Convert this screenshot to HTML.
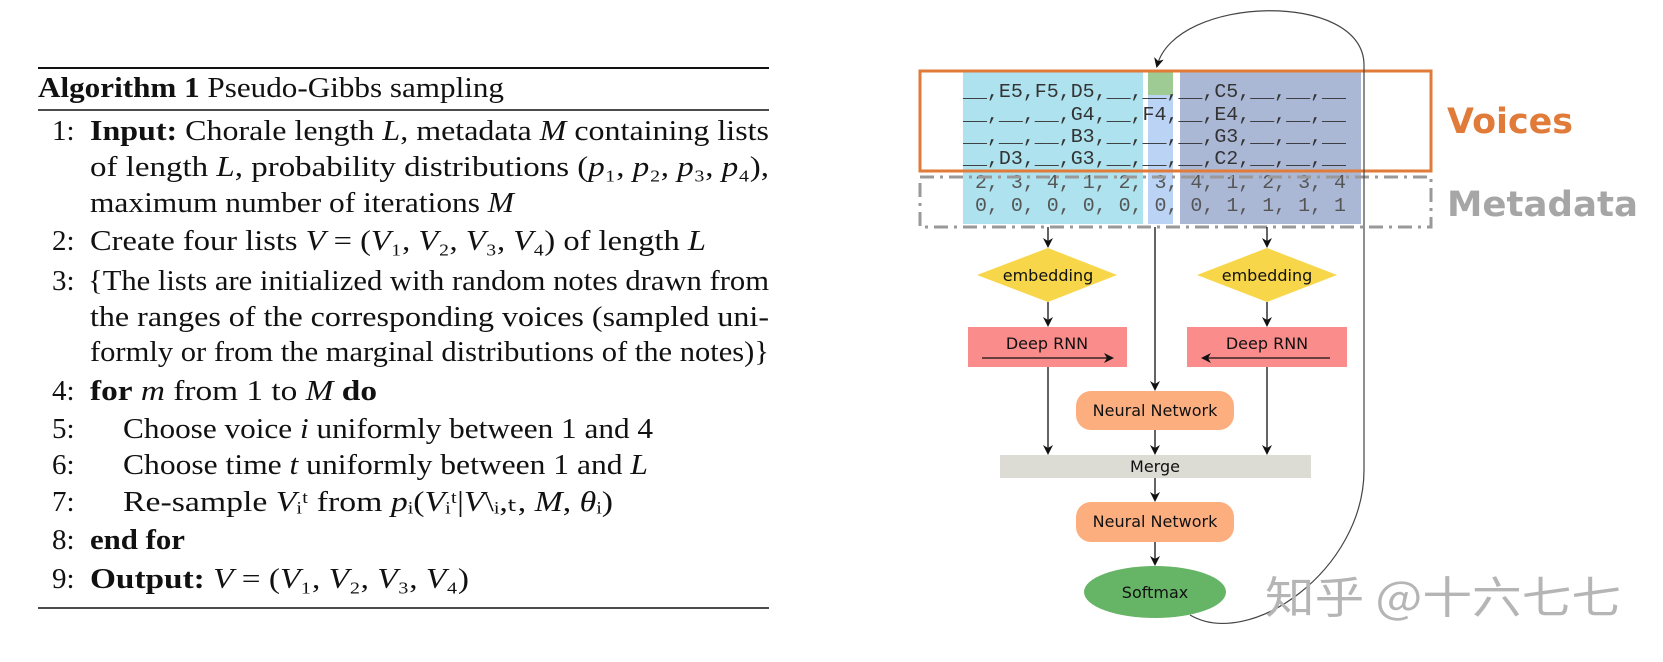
<!DOCTYPE html>
<html><head><meta charset="utf-8"><style>
html,body{margin:0;padding:0;background:#fff;}
svg{display:block;}
.a{font-family:"Liberation Serif",serif;font-size:29px;fill:#111;}
.m{font-family:"Liberation Mono",monospace;font-size:19px;fill:#333;}
.s{font-family:"DejaVu Sans","Liberation Sans",sans-serif;font-size:16px;fill:#111;text-anchor:middle;}
</style></head><body>
<svg width="1663" height="662" viewBox="0 0 1663 662" xmlns="http://www.w3.org/2000/svg">
<defs><marker id="ar" markerWidth="10" markerHeight="10" refX="8" refY="5" orient="auto" markerUnits="userSpaceOnUse"><path d="M0,0 L10,5 L0,10 L3,5 z" fill="#111"/></marker></defs>
<!-- Algorithm -->
<line x1="38" y1="68" x2="769" y2="68" stroke="#111" stroke-width="2"/>
<text class="a" x="38" y="97" textLength="466" lengthAdjust="spacingAndGlyphs"><tspan font-weight="bold">Algorithm 1</tspan> Pseudo-Gibbs sampling</text>
<line x1="38" y1="110" x2="769" y2="110" stroke="#111" stroke-width="1.5"/>
<g class="a">
<text x="52" y="140">1:</text>
<text x="90" y="140" textLength="679" lengthAdjust="spacingAndGlyphs"><tspan font-weight="bold">Input:</tspan> Chorale length <tspan font-style="italic">L</tspan>, metadata <tspan font-style="italic">M</tspan> containing lists</text>
<text x="90" y="176" textLength="679" lengthAdjust="spacingAndGlyphs">of length <tspan font-style="italic">L</tspan>, probability distributions (<tspan font-style="italic">p</tspan>₁, <tspan font-style="italic">p</tspan>₂, <tspan font-style="italic">p</tspan>₃, <tspan font-style="italic">p</tspan>₄),</text>
<text x="90" y="212" textLength="424" lengthAdjust="spacingAndGlyphs">maximum number of iterations <tspan font-style="italic">M</tspan></text>
<text x="52" y="250">2:</text>
<text x="90" y="250" textLength="616" lengthAdjust="spacingAndGlyphs">Create four lists <tspan font-style="italic">V</tspan> = (<tspan font-style="italic">V</tspan>₁, <tspan font-style="italic">V</tspan>₂, <tspan font-style="italic">V</tspan>₃, <tspan font-style="italic">V</tspan>₄) of length <tspan font-style="italic">L</tspan></text>
<text x="52" y="290">3:</text>
<text x="88" y="290" textLength="681" lengthAdjust="spacingAndGlyphs">{The lists are initialized with random notes drawn from</text>
<text x="90" y="326" textLength="679" lengthAdjust="spacingAndGlyphs">the ranges of the corresponding voices (sampled uni-</text>
<text x="90" y="361" textLength="679" lengthAdjust="spacingAndGlyphs">formly or from the marginal distributions of the notes)}</text>
<text x="52" y="400">4:</text>
<text x="90" y="400" textLength="287" lengthAdjust="spacingAndGlyphs"><tspan font-weight="bold">for</tspan> <tspan font-style="italic">m</tspan> from 1 to <tspan font-style="italic">M</tspan>  <tspan font-weight="bold">do</tspan></text>
<text x="52" y="438">5:</text>
<text x="123" y="438" textLength="530" lengthAdjust="spacingAndGlyphs">Choose voice <tspan font-style="italic">i</tspan> uniformly between 1 and 4</text>
<text x="52" y="474">6:</text>
<text x="123" y="474" textLength="525" lengthAdjust="spacingAndGlyphs">Choose time <tspan font-style="italic">t</tspan> uniformly between 1 and <tspan font-style="italic">L</tspan></text>
<text x="52" y="511">7:</text>
<text x="123" y="511" textLength="490" lengthAdjust="spacingAndGlyphs">Re-sample <tspan font-style="italic">V</tspan>ᵢᵗ from <tspan font-style="italic">p</tspan>ᵢ(<tspan font-style="italic">V</tspan>ᵢᵗ|<tspan font-style="italic">V</tspan>\ᵢ,ₜ, <tspan font-style="italic">M</tspan>, <tspan font-style="italic">θ</tspan>ᵢ)</text>
<text x="52" y="549">8:</text>
<text x="90" y="549" textLength="95" lengthAdjust="spacingAndGlyphs" font-weight="bold">end for</text>
<text x="52" y="588">9:</text>
<text x="90" y="588" textLength="379" lengthAdjust="spacingAndGlyphs"><tspan font-weight="bold">Output:</tspan> <tspan font-style="italic">V</tspan> = (<tspan font-style="italic">V</tspan>₁, <tspan font-style="italic">V</tspan>₂, <tspan font-style="italic">V</tspan>₃, <tspan font-style="italic">V</tspan>₄)</text>
</g>
<line x1="38" y1="608" x2="769" y2="608" stroke="#111" stroke-width="1.5"/>

<!-- Data grid -->
<rect x="963" y="71" width="180" height="153" fill="#ADE2EE"/>
<rect x="1148" y="71" width="25" height="24" fill="#9ECB94"/>
<rect x="1148" y="95" width="25" height="129" fill="#BBD3F5"/>
<rect x="1180" y="71" width="181" height="153" fill="#AAB8D6"/>
<g class="m">
<text x="963" y="97" textLength="383" lengthAdjust="spacingAndGlyphs">__,E5,F5,D5,__,__,__,C5,__,__,__</text>
<text x="963" y="120" textLength="383" lengthAdjust="spacingAndGlyphs">__,__,__,G4,__,F4,__,E4,__,__,__</text>
<text x="963" y="142" textLength="383" lengthAdjust="spacingAndGlyphs">__,__,__,B3,__,__,__,G3,__,__,__</text>
<text x="963" y="164" textLength="383" lengthAdjust="spacingAndGlyphs">__,D3,__,G3,__,__,__,C2,__,__,__</text>
<text x="975" y="188" textLength="371" lengthAdjust="spacingAndGlyphs" fill="#555">2, 3, 4, 1, 2, 3, 4, 1, 2, 3, 4</text>
<text x="975" y="211" textLength="371" lengthAdjust="spacingAndGlyphs" fill="#555">0, 0, 0, 0, 0, 0, 0, 1, 1, 1, 1</text>
</g>
<rect x="920" y="71" width="511" height="100" fill="none" stroke="#E07B39" stroke-width="3"/>
<rect x="920" y="177" width="511" height="50" fill="none" stroke="#999" stroke-width="3" stroke-dasharray="14,6,3,6"/>
<text x="1447" y="133" font-family="DejaVu Sans,Liberation Sans,sans-serif" font-weight="bold" font-size="35" fill="#E07B39" textLength="126" lengthAdjust="spacingAndGlyphs">Voices</text>
<text x="1447" y="216" font-family="DejaVu Sans,Liberation Sans,sans-serif" font-weight="bold" font-size="35" fill="#A6A6A6" textLength="191" lengthAdjust="spacingAndGlyphs">Metadata</text>

<!-- connectors -->
<g stroke="#111" stroke-width="1.3" fill="none">
<line x1="1048" y1="227" x2="1048" y2="246" marker-end="url(#ar)"/>
<line x1="1267" y1="227" x2="1267" y2="246" marker-end="url(#ar)"/>
<line x1="1048" y1="302" x2="1048" y2="325" marker-end="url(#ar)"/>
<line x1="1267" y1="302" x2="1267" y2="325" marker-end="url(#ar)"/>
<line x1="1155" y1="227" x2="1155" y2="389" marker-end="url(#ar)"/>
<line x1="1048" y1="367" x2="1048" y2="453" marker-end="url(#ar)"/>
<line x1="1267" y1="367" x2="1267" y2="453" marker-end="url(#ar)"/>
<line x1="1155" y1="430" x2="1155" y2="453" marker-end="url(#ar)"/>
<line x1="1155" y1="478" x2="1155" y2="500" marker-end="url(#ar)"/>
<line x1="1155" y1="542" x2="1155" y2="564" marker-end="url(#ar)"/>
<path d="M1190,615 C1250,650 1364,570 1364,470 L1364,65 C1364,-10 1175,-5 1157,66" stroke="#444" stroke-width="1.2" marker-end="url(#ar)"/>
</g>

<!-- nodes -->
<polygon points="977,275 1048,248 1117,275 1048,302" fill="#F7D64A"/>
<polygon points="1197,275 1267,248 1337,275 1267,302" fill="#F7D64A"/>
<text class="s" x="1048" y="281">embedding</text>
<text class="s" x="1267" y="281">embedding</text>
<rect x="968" y="327" width="159" height="40" fill="#FB8C8C"/>
<rect x="1187" y="327" width="160" height="40" fill="#FB8C8C"/>
<text class="s" x="1047" y="349">Deep RNN</text>
<text class="s" x="1267" y="349">Deep RNN</text>
<line x1="982" y1="358" x2="1112" y2="358" stroke="#111" stroke-width="1.2" marker-end="url(#ar)"/>
<line x1="1330" y1="358" x2="1203" y2="358" stroke="#111" stroke-width="1.2" marker-end="url(#ar)"/>
<rect x="1076" y="391" width="158" height="39" rx="15" fill="#FDAE7F"/>
<text class="s" x="1155" y="416">Neural Network</text>
<rect x="1000" y="455" width="311" height="23" fill="#DCDCD4"/>
<text class="s" x="1155" y="472">Merge</text>
<rect x="1076" y="502" width="158" height="40" rx="15" fill="#FDAE7F"/>
<text class="s" x="1155" y="527">Neural Network</text>
<ellipse cx="1155" cy="592" rx="71" ry="26" fill="#66B466"/>
<text class="s" x="1155" y="598">Softmax</text>

<text x="1265" y="613" font-family="Noto Sans CJK SC,WenQuanYi Zen Hei,sans-serif" font-size="44" fill="#B5B5B5" textLength="356" lengthAdjust="spacingAndGlyphs">知乎 @十六七七</text>
</svg>
</body></html>
